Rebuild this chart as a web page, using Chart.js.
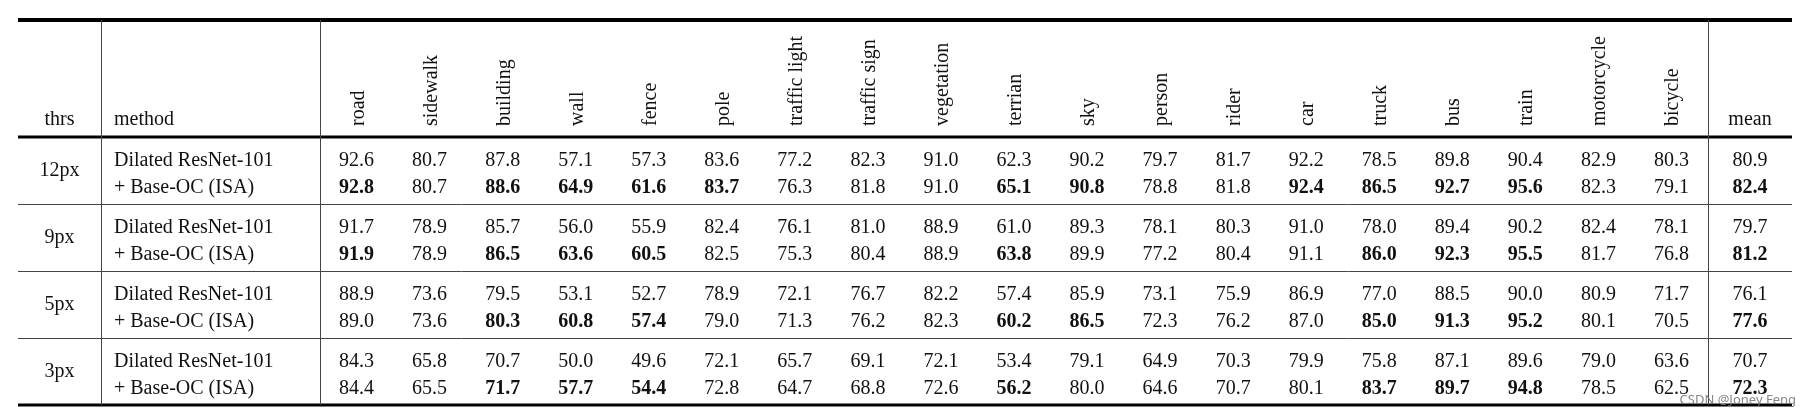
<!DOCTYPE html>
<html>
<head>
<meta charset="utf-8">
<script src="https://cdn.jsdelivr.net/npm/chart.js@4"></script>
<style>
  html, body { margin: 0; padding: 0; background: #fff; }
  #wrap { width: 1803px; height: 415px; }
</style>
</head>
<body>
<div id="wrap"><canvas id="tbl" width="1803" height="415"></canvas></div>
<script>
const classes = ['road', 'sidewalk', 'building', 'wall', 'fence', 'pole', 'traffic light', 'traffic sign',
  'vegetation', 'terrian', 'sky', 'person', 'rider', 'car', 'truck', 'bus', 'train', 'motorcycle', 'bicycle'];
const thresholds = ['12px', '9px', '5px', '3px'];
const methods = ['Dilated ResNet-101', '+ Base-OC (ISA)'];

// per threshold: [baseline row, ISA row], last value = mean
const px12 = [
  [92.6, 80.7, 87.8, 57.1, 57.3, 83.6, 77.2, 82.3, 91.0, 62.3, 90.2, 79.7, 81.7, 92.2, 78.5, 89.8, 90.4, 82.9, 80.3, 80.9],
  [92.8, 80.7, 88.6, 64.9, 61.6, 83.7, 76.3, 81.8, 91.0, 65.1, 90.8, 78.8, 81.8, 92.4, 86.5, 92.7, 95.6, 82.3, 79.1, 82.4]
];
const px9 = [
  [91.7, 78.9, 85.7, 56.0, 55.9, 82.4, 76.1, 81.0, 88.9, 61.0, 89.3, 78.1, 80.3, 91.0, 78.0, 89.4, 90.2, 82.4, 78.1, 79.7],
  [91.9, 78.9, 86.5, 63.6, 60.5, 82.5, 75.3, 80.4, 88.9, 63.8, 89.9, 77.2, 80.4, 91.1, 86.0, 92.3, 95.5, 81.7, 76.8, 81.2]
];
const px5 = [
  [88.9, 73.6, 79.5, 53.1, 52.7, 78.9, 72.1, 76.7, 82.2, 57.4, 85.9, 73.1, 75.9, 86.9, 77.0, 88.5, 90.0, 80.9, 71.7, 76.1],
  [89.0, 73.6, 80.3, 60.8, 57.4, 79.0, 71.3, 76.2, 82.3, 60.2, 86.5, 72.3, 76.2, 87.0, 85.0, 91.3, 95.2, 80.1, 70.5, 77.6]
];
const px3 = [
  [84.3, 65.8, 70.7, 50.0, 49.6, 72.1, 65.7, 69.1, 72.1, 53.4, 79.1, 64.9, 70.3, 79.9, 75.8, 87.1, 89.6, 79.0, 63.6, 70.7],
  [84.4, 65.5, 71.7, 57.7, 54.4, 72.8, 64.7, 68.8, 72.6, 56.2, 80.0, 64.6, 70.7, 80.1, 83.7, 89.7, 94.8, 78.5, 62.5, 72.3]
];
// column indices printed bold in the ISA row
const bold12 = [0, 2, 3, 4, 5, 9, 10, 13, 14, 15, 16, 19];
const bold9 = [0, 2, 3, 4, 9, 14, 15, 16, 19];
const bold5 = [2, 3, 4, 9, 10, 14, 15, 16, 19];
const bold3 = [2, 3, 4, 9, 14, 15, 16, 19];

const groups = [px12, px9, px5, px3];
const bolds = [bold12, bold9, bold5, bold3];

const FONT = '"Liberation Serif", "DejaVu Serif", serif';
const SIZE = '20px ';

const tablePlugin = {
  id: 'tablePlugin',
  afterDraw(chart) {
    const { ctx, scales: { x, y } } = chart;
    const X = v => x.getPixelForValue(v);
    const Y = v => y.getPixelForValue(v);
    const left = 18, right = 1792, methodX = 101, firstCol = 320, colW = 73.05, meanX = 1708;
    const headTop = 20, headBot = 137, groupH = 67;
    ctx.save();

    // rules
    ctx.fillStyle = '#000';
    ctx.fillRect(X(left), Y(headTop) - 2, X(right) - X(left), 4);
    ctx.fillRect(X(left), Y(headBot) - 1.5, X(right) - X(left), 3);
    ctx.fillRect(X(left), Y(headBot + groupH * 4) - 1.5, X(right) - X(left), 3);
    ctx.strokeStyle = '#444';
    ctx.lineWidth = 1;
    for (let g = 1; g < 4; g++) {
      ctx.beginPath();
      ctx.moveTo(X(left), Y(headBot + groupH * g) + 0.5);
      ctx.lineTo(X(right), Y(headBot + groupH * g) + 0.5);
      ctx.stroke();
    }
    [methodX, firstCol, meanX].forEach(vx => {
      ctx.beginPath();
      ctx.moveTo(X(vx) + 0.5, Y(headTop));
      ctx.lineTo(X(vx) + 0.5, Y(headBot + groupH * 4));
      ctx.stroke();
    });

    // header
    ctx.fillStyle = '#111';
    ctx.font = SIZE + FONT;
    ctx.textBaseline = 'alphabetic';
    ctx.textAlign = 'center';
    ctx.fillText('thrs', X((left + methodX) / 2), Y(125));
    ctx.fillText('mean', X((meanX + right) / 2), Y(125));
    ctx.textAlign = 'left';
    ctx.fillText('method', X(114), Y(125));
    classes.forEach((c, i) => {
      ctx.save();
      ctx.translate(X(firstCol + colW * (i + 0.5)) + 7, Y(126));
      ctx.rotate(-Math.PI / 2);
      ctx.textAlign = 'left';
      ctx.fillText(c, 0, 0);
      ctx.restore();
    });

    // body
    ctx.textBaseline = 'middle';
    groups.forEach((rows, g) => {
      const top = headBot + groupH * g;
      ctx.font = SIZE + FONT;
      ctx.textAlign = 'center';
      ctx.fillText(thresholds[g], X((left + methodX) / 2), Y(top + groupH / 2));
      rows.forEach((vals, r) => {
        const cy = Y(top + (r === 0 ? 24 : 51));
        ctx.font = SIZE + FONT;
        ctx.textAlign = 'left';
        ctx.fillText(methods[r], X(114), cy);
        ctx.textAlign = 'center';
        vals.forEach((v, i) => {
          const isBold = r === 1 && bolds[g].includes(i);
          ctx.font = (isBold ? 'bold ' : '') + SIZE + FONT;
          const cx = i < classes.length ? X(firstCol + colW * (i + 0.5)) : X((meanX + right) / 2);
          ctx.fillText(v.toFixed(1), cx, cy);
        });
      });
    });

    // watermark
    ctx.font = '13px "Noto Sans", sans-serif';
    ctx.fillStyle = 'rgba(120,120,120,0.9)';
    ctx.textAlign = 'right';
    ctx.fillText('CSDN @Joney Feng', X(1796), Y(400));
    ctx.restore();
  }
};

new Chart(document.getElementById('tbl'), {
  type: 'scatter',
  data: { datasets: [{ data: [] }] },
  options: {
    responsive: false,
    animation: false,
    layout: { padding: 0 },
    plugins: { legend: { display: false }, tooltip: { enabled: false } },
    scales: {
      x: { type: 'linear', min: 0, max: 1803, display: false },
      y: { type: 'linear', min: 0, max: 415, reverse: true, display: false }
    }
  },
  plugins: [tablePlugin]
});
</script>
</body>
</html>
